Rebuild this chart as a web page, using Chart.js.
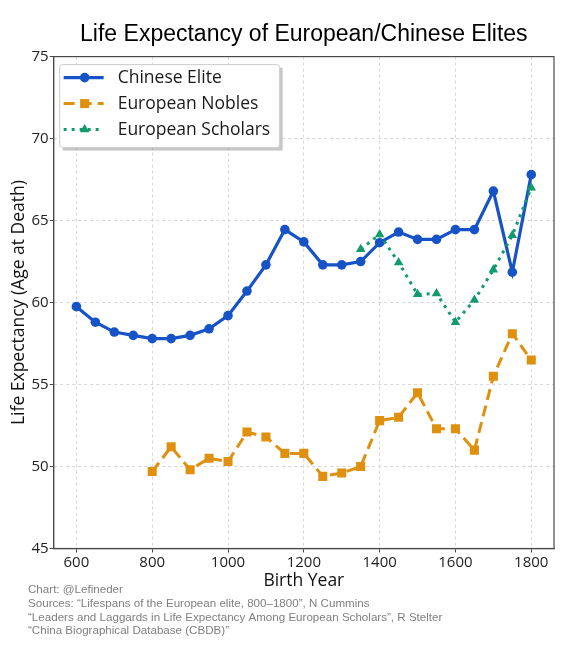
<!DOCTYPE html>
<html>
<head>
<meta charset="utf-8">
<script src="https://cdn.jsdelivr.net/npm/chart.js@4.4.1/dist/chart.umd.min.js"></script>
<style>
  html, body { margin: 0; padding: 0; background: #fff; }
  #wrap { position: relative; width: 586px; height: 645px; }
</style>
</head>
<body>
<div id="wrap"><canvas id="chart" width="586" height="645"></canvas></div>
<script>
// birth years (every 50 years) and the three series, null = no data
var years = [600, 650, 700, 750, 800, 850, 900, 950, 1000, 1050, 1100, 1150, 1200,
  1250, 1300, 1350, 1400, 1450, 1500, 1550, 1600, 1650, 1700, 1750, 1800];

var chineseElite = [59.75, 58.8, 58.2, 58.0, 57.8, 57.8, 58.0, 58.4, 59.2, 60.7, 62.3, 64.45, 63.7,
  62.3, 62.3, 62.5, 63.65, 64.3, 63.85, 63.85, 64.45, 64.45, 66.8, 61.85, 67.8];

var europeanNobles = [null, null, null, null, 49.7, 51.2, 49.8, 50.5, 50.3, 52.1, 51.8, 50.8, 50.8,
  49.4, 49.6, 50.0, 52.8, 53.0, 54.5, 52.3, 52.3, 51.0, 55.5, 58.1, 56.5];

var europeanScholars = [null, null, null, null, null, null, null, null, null, null, null, null, null,
  null, null, 63.25, 64.15, 62.45, 60.5, 60.55, 58.8, 60.15, 62.0, 64.1, 67.0];

var xTicks = [600, 800, 1000, 1200, 1400, 1600, 1800];
var yTicks = [45, 50, 55, 60, 65, 70, 75];

var footerLines = [
  'Chart: @Lefineder',
  'Sources: \u201cLifespans of the European elite, 800\u20131800\u201d, N Cummins',
  '\u201cLeaders and Laggards in Life Expectancy Among European Scholars\u201d, R Stelter',
  '\u201cChina Biographical Database (CBDB)\u201d'
];

function toPoints(values) {
  var pts = [];
  values.forEach(function(v, i) {
    if (v !== null) pts.push({ x: years[i], y: v });
  });
  return pts;
}

var blue = '#1553c6';
var orange = '#df900e';
var green = '#119b6c';
var sansFont = '"Open Sans", sans-serif';

// frame on all four sides of the plot
var framePlugin = {
  id: 'frame',
  afterDatasetsDraw: function(chart) {
    var a = chart.chartArea, ctx = chart.ctx;
    ctx.save();
    ctx.strokeStyle = '#4a4a4a';
    ctx.lineWidth = 1.2;
    ctx.strokeRect(a.left, a.top, a.right - a.left, a.bottom - a.top);
    ctx.restore();
  }
};

// matplotlib-like legend box in the top left corner
var boxLegendPlugin = {
  id: 'boxLegend',
  afterDraw: function(chart) {
    var ctx = chart.ctx, a = chart.chartArea;
    var x = a.left + 6, y = a.top + 8, w = 220, h = 83;
    ctx.save();
    ctx.fillStyle = 'rgba(0,0,0,0.22)';
    ctx.fillRect(x + 3, y + 3, w, h);
    ctx.fillStyle = '#fff';
    ctx.strokeStyle = '#cccccc';
    ctx.lineWidth = 1;
    ctx.beginPath();
    ctx.roundRect(x, y, w, h, 3);
    ctx.fill();
    ctx.stroke();
    chart.data.datasets.forEach(function(ds, i) {
      var cy = y + 13 + i * 26;
      ctx.strokeStyle = ds.borderColor;
      ctx.lineWidth = ds.borderWidth;
      ctx.setLineDash(ds.borderDash || []);
      ctx.beginPath();
      ctx.moveTo(x + 4, cy);
      ctx.lineTo(x + 44, cy);
      ctx.stroke();
      ctx.setLineDash([]);
      ctx.fillStyle = ds.borderColor;
      Chart.helpers.drawPoint(ctx, {
        pointStyle: ds.pointStyle, radius: ds.pointRadius, rotation: 0, borderWidth: 0
      }, x + 25, cy);
      ctx.fillStyle = '#1a1a1a';
      ctx.font = '17.5px ' + sansFont;
      ctx.textBaseline = 'middle';
      ctx.fillText(ds.label, x + 58, cy);
    });
    ctx.restore();
  }
};

// source notes under the axis title
var footerPlugin = {
  id: 'footerNotes',
  afterDraw: function(chart) {
    var ctx = chart.ctx;
    ctx.save();
    ctx.fillStyle = '#7f7f7f';
    ctx.font = '11.6px "Liberation Sans", Arial, sans-serif';
    ctx.textBaseline = 'middle';
    footerLines.forEach(function(t, i) {
      ctx.fillText(t, 28, 590 + i * 13.7);
    });
    ctx.restore();
  }
};

var ctx = document.getElementById('chart');

new Chart(ctx, {
  type: 'line',
  data: {
    datasets: [{
      label: 'Chinese Elite',
      data: toPoints(chineseElite),
      borderColor: blue,
      backgroundColor: blue,
      borderWidth: 3.2,
      pointStyle: 'circle',
      pointRadius: 4.8,
      pointBorderWidth: 0,
      order: 3
    }, {
      label: 'European Nobles',
      data: toPoints(europeanNobles),
      borderColor: orange,
      backgroundColor: orange,
      borderWidth: 3,
      borderDash: [11, 6],
      pointStyle: 'rect',
      pointRadius: 6.4,
      pointBorderWidth: 0,
      order: 2
    }, {
      label: 'European Scholars',
      data: toPoints(europeanScholars),
      borderColor: green,
      backgroundColor: green,
      borderWidth: 3,
      borderDash: [3, 5],
      pointStyle: 'triangle',
      pointRadius: 5.5,
      pointBorderWidth: 0,
      order: 1
    }]
  },
  options: {
    responsive: false,
    animation: false,
    devicePixelRatio: 1,
    layout: { padding: { left: 8.5, right: 32, top: 0, bottom: 55 } },
    plugins: {
      legend: { display: false },
      tooltip: { enabled: false },
      title: {
        display: true,
        fullSize: false,
        text: 'Life Expectancy of European/Chinese Elites',
        color: '#000',
        font: { family: '"Liberation Sans", Arial, sans-serif', size: 23, weight: 'normal' },
        padding: { top: 21, bottom: 8 }
      }
    },
    scales: {
      x: {
        type: 'linear',
        min: 540,
        max: 1860,
        afterBuildTicks: function(axis) {
          axis.ticks = xTicks.map(function(v) { return { value: v }; });
        },
        grid: {
          color: '#d6d6d6',
          tickColor: '#4a4a4a',
          tickLength: 4,
          tickBorderDash: []
        },
        border: { color: '#4a4a4a', width: 1.2, dash: [3, 3] },
        ticks: {
          color: '#222',
          font: { family: sansFont, size: 15 },
          padding: 1,
          maxRotation: 0,
          callback: function(v) { return String(v); }
        },
        title: {
          display: true,
          text: 'Birth Year',
          color: '#111',
          font: { family: sansFont, size: 17.5, lineHeight: 1.0 },
          padding: { top: 0, bottom: 0 }
        }
      },
      y: {
        min: 45,
        max: 75,
        afterBuildTicks: function(axis) {
          axis.ticks = yTicks.map(function(v) { return { value: v }; });
        },
        grid: {
          color: '#d6d6d6',
          tickColor: '#4a4a4a',
          tickLength: 4,
          tickBorderDash: []
        },
        border: { color: '#4a4a4a', width: 1.2, dash: [3, 3] },
        ticks: {
          color: '#222',
          font: { family: sansFont, size: 15 },
          padding: 1,
          callback: function(v) { return String(v); }
        },
        title: {
          display: true,
          text: 'Life Expectancy (Age at Death)',
          color: '#111',
          font: { family: sansFont, size: 17.5 },
          padding: { top: 0, bottom: 1 }
        }
      }
    }
  },
  plugins: [framePlugin, boxLegendPlugin, footerPlugin]
});
</script>
</body>
</html>
